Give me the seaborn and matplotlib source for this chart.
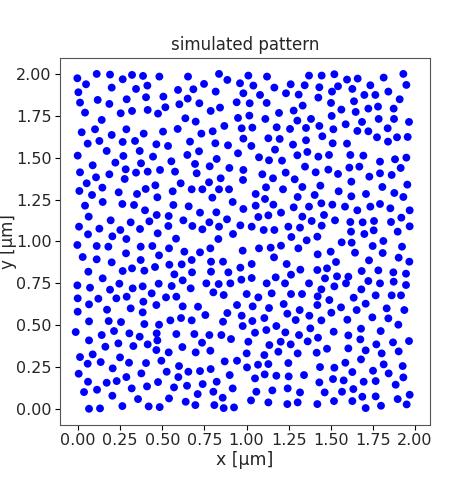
import numpy as np
import matplotlib
matplotlib.use("Agg")
import matplotlib.pyplot as plt
import seaborn as sns

# Point readings in a fine grid unit (1 unit ~ 1/505 um), grouped by quadrant
q1 = [(52,55),(110,42),(150,44),(188,58),(216,45),(249,48),(298,50),(384,50),(477,42),(502,60),(540,70),
(78,73),(155,83),(228,87),(262,77),(354,90),(400,88),(432,72),(467,95),(550,100),
(55,97),(113,120),(148,132),(200,118),(258,112),(310,110),(383,116),(418,130),(358,133),(530,127),
(60,128),(75,158),(182,160),(216,153),(263,150),(294,161),(316,142),(452,153),(480,143),
(125,180),(376,175),(407,185),(534,174),
(65,217),(105,208),(155,225),(199,208),(251,221),(309,215),(353,207),(424,221),(458,214),(493,198),(545,205),
(83,251),(118,243),(188,246),(225,243),(289,253),(324,258),(390,245),(466,250),(504,256),(550,236),
(140,273),(239,273),(417,274),(534,280),
(53,287),(190,288),(279,290),(382,285),(470,297),
(166,308),(243,310),(334,304),(405,312),
(98,316),(197,328),(300,330),(345,335),(449,319),(508,324),(550,330),
(60,337),(228,338),(263,335),(410,340),
(108,352),(148,343),(194,357),(482,355),
(80,370),(127,383),(286,376),(362,370),(447,367),(549,360),
(58,393),(176,397),(231,402),(257,387),(338,394),(395,388),(427,388),(477,388),(507,388),
(96,405),(292,412),(457,413),
(75,437),(128,426),(187,432),(222,435),(340,435),(386,439),(518,426),
(255,451),(420,458),(469,457),(550,447),
(86,470),(290,465),(326,468),
(152,481),(212,487),(268,484),(370,481),(448,487),(501,478),(541,496),
(57,500),(118,506),(181,510),(240,507),(325,498),(397,498),(427,508),(477,500),
(84,523),(157,529),(199,537),(293,520),(348,536),(519,522),(475,537)]

q2 = [(10,47),(66,50),(192,47),(230,47),(268,43),(306,59),(338,56),(416,53),(475,42),
(25,77),(88,83),(137,73),(179,76),(223,82),(279,79),(322,87),(376,76),(484,75),
(45,105),(123,100),(161,104),(220,113),(261,95),(358,105),(391,105),(430,95),(464,118),
(14,130),(65,129),(173,137),(258,129),(327,124),(289,149),(332,156),(370,146),(399,140),(446,146),
(13,167),(102,159),(146,152),(260,168),
(61,177),(157,182),(198,177),(401,177),(447,177),(492,186),
(22,203),(95,202),(135,207),(183,204),(223,198),(265,208),(302,193),(351,186),(337,213),(370,214),(428,205),
(70,235),(104,237),(144,254),(183,241),(232,229),(263,250),(306,251),(396,232),(429,245),(456,232),(488,231),
(19,258),(90,269),(157,286),(187,276),(220,290),(252,285),(316,285),(355,287),
(42,292),(72,301),(111,302),(180,320),(212,337),(250,329),(279,342),(313,323),(343,320),(405,305),(450,298),(484,293),
(52,343),(84,355),(122,338),(149,358),(319,365),(373,350),(405,340),(440,345),(467,324),
(63,382),(114,388),(172,381),(226,377),(281,394),(412,381),(487,374),
(32,402),(60,417),(158,411),(209,405),(319,409),(363,402),(448,399),(475,411),
(32,437),(85,434),(146,442),(192,440),(229,430),(262,434),(300,440),(376,440),(405,432),(436,445),(494,451),
(40,471),(70,466),(108,458),(172,470),(237,465),(337,451),
(20,500),(56,510),(88,510),(130,500),(165,503),(200,483),(230,497),(270,481),(316,486),(353,487),(387,483),(438,486),(469,473),(494,499),
(139,531),(185,541),(217,530),(318,515),(358,522),(386,511),(458,515),
(290,547),(320,548),(415,543)]

q3 = [(52,0),(110,3),(145,5),(242,5),(277,3),(327,10),(373,20),(420,22),(451,10),(548,17),
(68,36),(110,43),(155,52),(198,25),(242,45),(297,31),(328,59),(365,58),(395,45),(453,50),(489,50),(541,68),
(85,80),(188,78),(216,70),(253,77),(285,66),(343,88),(396,82),(453,80),(505,82),
(128,100),(178,116),(296,116),(335,123),(368,106),(439,115),(476,117),(511,115),(544,104),
(52,121),(90,128),(150,134),(218,130),(248,124),(392,130),(460,142),(491,150),
(53,160),(115,161),(169,160),(200,155),(275,145),(318,157),(349,155),
(87,178),(212,190),(250,170),(289,180),(368,184),(414,185),(531,180),
(53,200),(141,194),(248,202),(436,210),(502,204),(545,212),
(87,229),(146,228),(183,231),(253,237),(297,239),(331,226),(363,219),(395,226),(489,230),(548,243),
(47,261),(125,270),(162,258),(208,265),(239,275),(290,265),(349,267),(403,267),(448,270),(484,270),(513,282),
(87,286),(175,295),(220,303),(263,298),(292,286),(136,305),
(367,306),(426,293),(451,317),(289,315),(326,322),(407,322),
(60,336),(98,328),(180,337),(83,356),(122,351),(158,370),(207,353),(258,354),(304,347),(357,363),(494,349),(531,347),
(56,386),(199,396),(244,385),(320,380),(355,396),(385,380),(420,378),(452,372),(509,390),
(84,410),(140,413),(170,408),(215,430),(261,424),(294,411),(342,427),(381,422),(428,417),(470,410),(518,430),
(72,441),(111,434),(157,452),(234,462),(327,460),(413,447),(460,440),(488,458),
(87,491),(120,490),(187,483),(266,484),(299,486),(377,470),(406,480),(463,480),(491,489),(522,487)]

q4 = [(42,10),(77,8),(108,2),(160,10),(383,3),(471,5),
(218,28),(257,20),(330,23),(413,24),(87,37),(372,46),(461,38),(493,50),
(20,57),(125,57),(273,51),
(166,74),(217,75),(246,70),(138,89),(92,97),(20,99),(240,100),(276,94),(310,95),(350,78),(400,76),(445,82),(483,86),
(65,115),(120,115),(192,115),(229,133),(268,124),(303,115),(349,133),(370,108),(405,115),(446,110),(483,120),
(5,147),(40,157),(80,145),(138,147),(171,147),(218,154),(253,165),(326,158),(392,151),(440,151),(468,151),
(23,184),(72,189),(116,177),(217,180),(288,187),(362,176),(425,190),(478,195),
(127,206),(164,195),(193,212),(259,203),(335,195),(382,217),(430,220),
(22,228),(58,219),(152,225),(229,226),(307,224),(460,239),
(30,263),(64,255),(94,243),(121,262),(196,250),(162,270),(219,278),(266,260),(310,271),(348,251),(407,258),
(10,290),(73,300),(107,290),(137,298),(188,289),(346,283),(394,298),(444,292),(492,288),
(5,325),(58,330),(100,320),(158,325),(215,323),(246,311),(310,310),(362,316),(410,325),(461,319),
(39,359),(70,357),(6,367),(130,354),(225,366),(268,368),(301,353),(348,343),(416,358),(473,363),
(30,400),(59,388),(94,392),(131,394),(177,390),(223,412),(264,402),(296,406),(322,381),(384,377),(431,385),(356,410),(392,408),(475,397),(452,419),
(34,440),(82,436),(128,430),(165,442),(239,442),(291,440),(325,432),(352,455),(392,454),(494,449),(458,462),
(18,466),(70,472),(127,477),(158,472),(217,477),(267,468),(322,468),(362,489),(408,482),(485,478)]

X_UNIT = 505.5   # grid units per um (x)
Y_UNIT = 502.5   # grid units per um (y)
quads = [(q1, -54, 1047), (q2, 501, 1047), (q3, -54, 492), (q4, 501, 492)]

xs, ys = [], []
for pts, xo, yo in quads:
    for a, b in pts:
        xs.append((a + xo) / X_UNIT)
        ys.append((yo - b) / Y_UNIT)
xs = np.array(xs); ys = np.array(ys)

sns.set_style("white")
fig = plt.figure(figsize=(4.74, 4.78), dpi=100)
ax = fig.add_axes([60/474, 1-425/478, 370/474, 367/478])
sns.scatterplot(x=xs, y=ys, ax=ax, color="blue", s=32, edgecolor="none", linewidth=0)
ax.set_xlim(-0.107, 2.089)
ax.set_ylim(-0.095, 2.095)
ticks = [0.00, 0.25, 0.50, 0.75, 1.00, 1.25, 1.50, 1.75, 2.00]
ax.set_xticks(ticks); ax.set_yticks(ticks)
ax.set_xticklabels([f"{t:.2f}" for t in ticks])
ax.set_yticklabels([f"{t:.2f}" for t in ticks])
ax.tick_params(labelsize=11.5, length=3.5, width=0.8, left=True, bottom=True, color="black", pad=2.5)
for s in ax.spines.values():
    s.set_color("#555555"); s.set_linewidth(0.8)
ax.set_xlabel("x [µm]", fontsize=12.5, labelpad=2)
ax.set_ylabel("y [µm]", fontsize=12)
ax.yaxis.set_label_coords(-0.115, 0.5)
ax.set_title("simulated pattern", fontsize=12)
fig.savefig("out.png", dpi=100)
